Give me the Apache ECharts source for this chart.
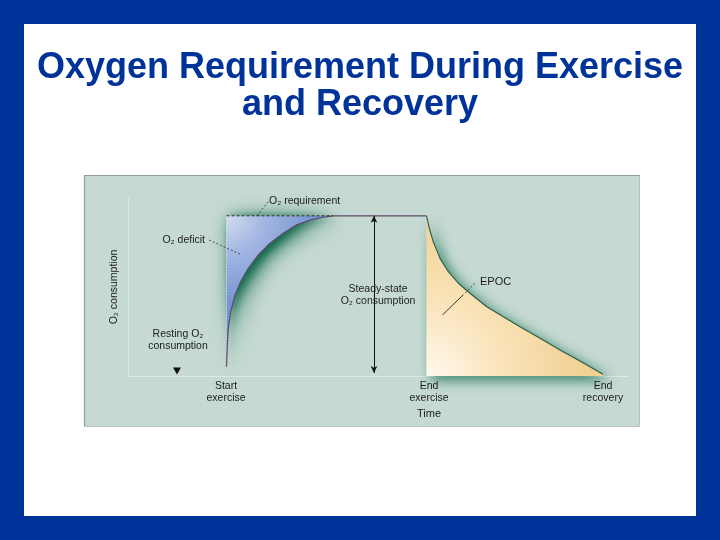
<!DOCTYPE html>
<html><head><meta charset="utf-8">
<script src="https://cdn.jsdelivr.net/npm/echarts@6.0.0/dist/echarts.min.js"></script>
<style>html,body{margin:0;padding:0;background:#003399}#c{width:720px;height:540px}</style>
</head><body><div id="c"></div>
<script>
// ---- data (time units, O2 units) ----
const startExercise = 1.97;
const endExercise = 5.97;
const endRecovery = 9.5;
const requirementLevel = 9.0;
const restingLevel = 0.52;
const consumption = [[1.97,0.52],[1.986,1.74],[2.006,2.68],[2.054,3.61],[2.14,4.55],[2.254,5.30],[2.406,6.05],[2.606,6.80],[2.84,7.46],[3.106,8.02],[3.374,8.49],[3.64,8.76],[3.906,8.92],[4.1,9.0]];
const plateau = [[4.1,9.0],[5.97,9.0]];
const recovery = [[5.97,9.0],[6.026,8.30],[6.106,7.54],[6.24,6.61],[6.406,5.86],[6.606,5.21],[6.84,4.65],[7.174,3.89],[7.506,3.33],[7.84,2.77],[8.24,2.12],[8.64,1.46],[9.04,0.84],[9.5,0.1]];
const steadyArrow = [[4.92,9.0],[4.92,0.17]];
const leaderRequirement = [[2.8,9.79],[2.58,9.0]];
const leaderDeficit = [[1.62,7.64],[2.24,6.85]];
const leaderEpoc = [[6.94,5.21],[6.70,4.55],[6.29,3.43]];
const restingMarker = [0.98,0.28];

const FONT = '"Liberation Sans", "DejaVu Sans", Arial, sans-serif';
const TXT = '#1c1c1c';
const SHADOW = 'rgba(14,104,72,1)';
const SHADOW_SOFT = 'rgba(20,110,78,0.85)';

const chart = echarts.init(document.getElementById('c'), null, {renderer:'canvas'});

function txt(text, x, y, align, size, lh) {
  return {type:'text', z:100, silent:true, style:{text:text, x:x, y:y, fill:TXT, fontSize:size||10.5, fontFamily:FONT, align:align||'center', verticalAlign:'middle', lineHeight:lh||12}};
}

function deficitPoints(api) {
  const pts = [api.coord([startExercise, requirementLevel])];
  for (let i = consumption.length - 1; i >= 0; i--) pts.push(api.coord(consumption[i]));
  return pts;
}
function epocPoints(api) {
  const pts = recovery.map(p => api.coord(p));
  pts.push(api.coord([endRecovery, 0]));
  pts.push(api.coord([endExercise, 0]));
  return pts;
}
const blueFill = {type:'radial', x:0, y:0, r:1.0, colorStops:[{offset:0,color:'#d3ddef'},{offset:0.35,color:'#a3b7e2'},{offset:0.8,color:'#7896d2'},{offset:1,color:'#7391d0'}]};
const yellowFill = {type:'radial', x:0, y:1, r:1.0, colorStops:[{offset:0,color:'#fff9ee'},{offset:0.45,color:'#fae4bb'},{offset:1,color:'#f0d191'}]};

function shadowLayer(name, ptsFn, blur, ox, oy, color) {
  return {type:'custom', name:name, silent:true, z:2, data:[[0,0]],
    renderItem:function(params, api){
      return {type:'polygon', shape:{points:ptsFn(api)}, style:{fill:'#c6dad3', shadowBlur:blur, shadowColor:color, shadowOffsetX:ox, shadowOffsetY:oy}};
    }};
}

const option = {
  animation:false,
  backgroundColor:'#003399',
  title:{text:'Oxygen Requirement During Exercise\nand Recovery', left:'center', top:45,
    textStyle:{fontSize:36, lineHeight:37, fontWeight:'bold', color:'#003399', fontFamily:FONT}},
  grid:{left:128, top:198, width:500, height:178, show:false},
  xAxis:{type:'value', min:0, max:10, axisLine:{show:true, onZero:false, lineStyle:{color:'#dce9e4', width:1}},
    axisTick:{show:false}, axisLabel:{show:false}, splitLine:{show:false}},
  yAxis:{type:'value', min:0, max:10, name:'O₂ consumption', nameLocation:'middle', nameGap:8, nameRotate:90,
    nameTextStyle:{fontSize:10.5, color:TXT, fontFamily:FONT},
    axisLine:{show:true, lineStyle:{color:'#dce9e4', width:1}}, axisTick:{show:false}, axisLabel:{show:false}, splitLine:{show:false}},
  graphic:[
    {type:'rect', z:-10, silent:true, shape:{x:24, y:24, width:672, height:492}, style:{fill:'#ffffff'}},
    {type:'rect', z:-9, silent:true, shape:{x:84.5, y:175.5, width:555, height:251}, style:{fill:'#c6dad3', stroke:'#b4c2bf', lineWidth:1}},
    {type:'polyline', z:-8, silent:true, shape:{points:[[84.5,426],[84.5,175.5],[640,175.5]]}, style:{stroke:'#909e9b', lineWidth:1.2, fill:null}},
    txt('O₂ requirement', 269, 201, 'left'),
    txt('O₂ deficit', 205, 240, 'right'),
    txt('Resting O₂\nconsumption', 178, 340, 'center'),
    txt('Start\nexercise', 226, 392, 'center'),
    txt('Steady-state\nO₂ consumption', 378, 295, 'center', 10.5, 11.5),
    txt('EPOC', 480, 282, 'left', 11),
    txt('End\nexercise', 429, 392, 'center'),
    txt('Time', 429, 414, 'center', 11),
    txt('End\nrecovery', 603, 392, 'center')
  ],
  series:[
    shadowLayer('deficitShadow1', deficitPoints, 22, 7, 4, SHADOW),
    shadowLayer('deficitShadow2', deficitPoints, 10, 4, 2, SHADOW),
    shadowLayer('epocShadow', epocPoints, 13, 5, 4, SHADOW_SOFT),
    {type:'custom', name:'deficit', silent:true, z:2, data:[[0,0]],
      renderItem:function(params, api){
        return {type:'polygon', shape:{points:deficitPoints(api)}, style:{fill:blueFill}};
      }},
    {type:'custom', name:'epoc', silent:true, z:2, data:[[0,0]],
      renderItem:function(params, api){
        return {type:'polygon', shape:{points:epocPoints(api)}, style:{fill:yellowFill}};
      }},
    {type:'line', name:'leftEdge', silent:true, symbol:'none', z:3,
      data:[[startExercise, restingLevel],[startExercise, requirementLevel]],
      lineStyle:{color:'#dfe6ee', width:1, type:[1,2]}},
    {type:'line', name:'consumption', silent:true, symbol:'none', z:4,
      data:consumption.concat(plateau.slice(1)),
      lineStyle:{color:'#5d4a68', width:1.2}},
    {type:'line', name:'recovery', silent:true, symbol:'none', z:4,
      data:recovery, lineStyle:{color:'#2c5b48', width:1.1}},
    {type:'line', name:'requirement', silent:true, symbol:'none', z:4,
      data:[[startExercise, requirementLevel], consumption[consumption.length-1]],
      lineStyle:{color:'#2a2a2a', width:1, type:[3,2]},
      markLine:{silent:true, symbol:['none','none'], label:{show:false}, emphasis:{disabled:true},
        lineStyle:{color:'#2a2a2a', width:0.8, type:[2,2]},
        data:[
          [{coord:leaderRequirement[0]},{coord:leaderRequirement[1]}],
          [{coord:leaderDeficit[0]},{coord:leaderDeficit[1]}],
          [{coord:leaderEpoc[0]},{coord:leaderEpoc[1]}],
          [{coord:leaderEpoc[1]},{coord:leaderEpoc[2], lineStyle:{type:'solid', width:0.9, color:'#222'}}]
        ]}},
    {type:'line', name:'annotations', silent:true, symbol:'none', z:5, data:[],
      markLine:{silent:true, symbol:['arrow','arrow'], symbolSize:[5,7], label:{show:false}, emphasis:{disabled:true},
        lineStyle:{color:'#111', width:1, type:'solid'},
        data:[[{coord:steadyArrow[0]},{coord:steadyArrow[1]}]]},
      markPoint:{silent:true, label:{show:false}, itemStyle:{color:'#111'},
        data:[{coord:restingMarker, symbol:'triangle', symbolRotate:180, symbolSize:[8,7]}]}}
  ]
};
chart.setOption(option);
</script></body></html>
